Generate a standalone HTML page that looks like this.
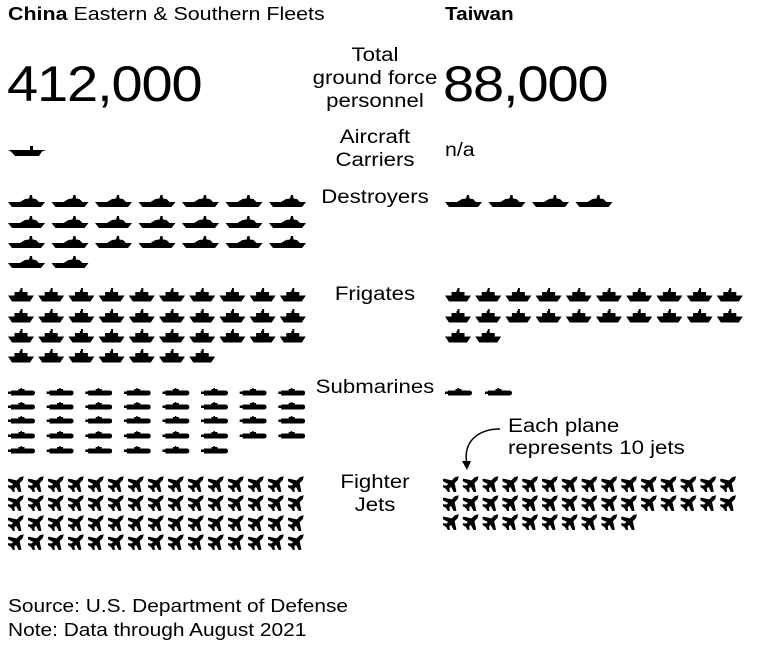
<!DOCTYPE html>
<html><head><meta charset="utf-8"><style>
html,body{margin:0;padding:0;background:#fff;width:757px;height:653px;overflow:hidden;font-family:"Liberation Sans",sans-serif;color:#000}
.t{position:absolute;white-space:nowrap}
.l{transform-origin:0 0}
.c{text-align:center;font-size:19px;line-height:23px;transform:scaleX(1.17);transform-origin:50% 0}
</style></head><body>
<div class="t l" style="left:8px;top:4px;font-size:18px;transform:scaleX(1.19)"><b>China</b> Eastern &amp; Southern Fleets</div>
<div class="t l" style="left:445px;top:4px;font-size:18px;transform:scaleX(1.15)"><b>Taiwan</b></div>
<div class="t l" style="left:7px;top:55px;font-size:50px;letter-spacing:-1px;transform:scaleX(1.12)">412,000</div>
<div class="t l" style="left:443px;top:55px;font-size:50px;letter-spacing:-1px;transform:scaleX(1.12)">88,000</div>
<div class="t c" style="left:305px;width:140px;top:44px">Total<br>ground force<br>personnel</div>
<div class="t c" style="left:305px;width:140px;top:126px">Aircraft<br>Carriers</div>
<div class="t l" style="left:445px;top:140px;font-size:19px;transform:scaleX(1.12)">n/a</div>
<div class="t c" style="left:305px;width:140px;top:186px">Destroyers</div>
<div class="t c" style="left:305px;width:140px;top:283px">Frigates</div>
<div class="t c" style="left:305px;width:140px;top:376px">Submarines</div>
<div class="t c" style="left:305px;width:140px;top:471px">Fighter<br>Jets</div>
<div class="t l" style="left:508px;top:416px;font-size:19px;line-height:22px;transform:scaleX(1.17)">Each plane<br>represents 10 jets</div>
<div class="t l" style="left:8px;top:594px;font-size:18px;line-height:24px;transform:scaleX(1.16)">Source: U.S. Department of Defense<br>Note: Data through August 2021</div>
<svg id="s" width="757" height="653" style="position:absolute;left:0;top:0">
<defs>
<symbol id="d" viewBox="0 0 37 12" preserveAspectRatio="none"><path d="M0 7H37L33 12H4Z M12 7L17 4L21 3.5L22 0H24L24.5 3.5L28 4L31 7Z"/></symbol>
<symbol id="f" viewBox="0 0 26 14" preserveAspectRatio="none"><path d="M0 7.5H26L22 13.5H4Z M6.5 8V4H11.5V2H12.5V0H14.5V4H19.5V8Z"/></symbol>
<symbol id="u" viewBox="0 0 27 8" preserveAspectRatio="none"><path d="M0 3.5H3V2.5H24Q27 2.5 27 5Q27 7.5 24 7.5H3V6H0Z M10.5 3V1H12.5V0H14V1H16.5V3Z"/></symbol>
<symbol id="j" viewBox="-8 -8 16 16"><g transform="rotate(45)"><path d="M0 -8.5L1.8 -5.5V-1.5L8 2.5V5L1.8 3V5L4.2 7V8.5L0 7.5L-4.2 8.5V7L-1.8 5V3L-8 5V2.5L-1.8 -1.5V-5.5Z"/></g></symbol>
<symbol id="a" viewBox="0 0 38 10" preserveAspectRatio="none"><path d="M0 4H38L34 5.5L31 10H7L3 5.5Z M22 4V0H25V4Z"/></symbol>
</defs>
<use href="#a" x="8" y="146" width="38" height="10"/>
<path d="M500 429C480 429 462 440 467 465" fill="none" stroke="#000" stroke-width="1.5"/>
<path d="M462 461L467 470L471 461Z"/>
<g id="g"></g>
</svg>
<script>
var g=document.getElementById('g'),h='';
function grid(id,x0,dx,ys,counts,w,hh){for(var r=0;r<counts.length;r++)for(var i=0;i<counts[r];i++)h+='<use href="#'+id+'" x="'+(x0+i*dx)+'" y="'+(ys[r]-hh/2)+'" width="'+w+'" height="'+hh+'"/>';}
grid('d',8,43.5,[201,222,242,262],[7,7,7,2],37,12);
grid('d',445,43.5,[201],[4],37,12);
grid('f',8,30.2,[295,316,336,356],[10,10,10,7],26,14);
grid('f',445,30.2,[295,316,336],[10,10,2],26,14);
grid('u',8,38.6,[392,406,420,435,450],[8,8,8,8,6],27,8);
grid('u',445,40,[392],[2],27,8);
grid('j',8,20,[483,502,522,541],[15,15,15,15],18,18);
grid('j',443,19.8,[483,502,521],[15,15,10],18,18);
g.innerHTML=h;
</script>
</body></html>
